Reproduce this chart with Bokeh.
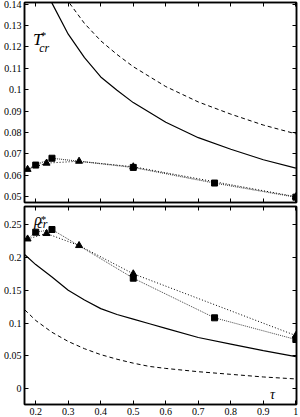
from bokeh.plotting import figure
from bokeh.layouts import column
from bokeh.models import Range1d, LinearAxis, FixedTicker, Label, AllLabels
from bokeh.embed import file_html
from bokeh.resources import INLINE

# ---------------- data ----------------
# upper panel: T*_cr versus tau
tau_T_solid = [0.24, 0.25, 0.3, 0.35, 0.4, 0.45, 0.5, 0.6, 0.7, 0.8, 0.9, 1.0]
T_solid = [0.1445, 0.1405, 0.126, 0.115, 0.106, 0.0998, 0.094, 0.0848, 0.0776, 0.0722, 0.0673, 0.0634]
tau_T_dashed = [0.28, 0.3, 0.35, 0.4, 0.45, 0.5, 0.6, 0.7, 0.8, 0.9, 1.0]
T_dashed = [0.1458, 0.1413, 0.131, 0.1229, 0.1165, 0.1108, 0.1015, 0.0943, 0.0886, 0.0835, 0.0794]

tau_sq_line = [0.175, 0.2, 0.25, 0.5, 0.75, 1.0]
T_sq_line = [0.0628, 0.0648, 0.0680, 0.0637, 0.0564, 0.0498]
tau_sq = [0.2, 0.25, 0.5, 0.75, 1.0]
T_sq = [0.0648, 0.0680, 0.0637, 0.0564, 0.0498]
tau_tri = [0.175, 0.2333, 0.3333, 0.5, 1.0]
T_tri = [0.0628, 0.0657, 0.0666, 0.0640, 0.0500]

# lower panel: rho*_cr versus tau
tau_rho = [0.1667, 0.2, 0.25, 0.3, 0.35, 0.4, 0.45, 0.5, 0.55, 0.6, 0.7, 0.8, 0.9, 1.0]
rho_solid = [0.204, 0.189, 0.170, 0.150, 0.135, 0.122, 0.113, 0.106, 0.099, 0.092, 0.078, 0.068, 0.058, 0.049]
rho_dashed = [0.120, 0.104, 0.086, 0.072, 0.061, 0.052, 0.045, 0.039, 0.034, 0.031, 0.026, 0.022, 0.018, 0.015]

rho_sq_line = [0.228, 0.2383, 0.2424, 0.1683, 0.108, 0.075]
rho_sq = [0.2383, 0.2424, 0.1683, 0.108, 0.075]
rho_tri = [0.228, 0.2363, 0.218, 0.175, 0.081]

# ticks
x_ticks = [0.2, 0.3, 0.4, 0.5, 0.6, 0.7, 0.8, 0.9, 1]
x_labels = ["0.2", "0.3", "0.4", "0.5", "0.6", "0.7", "0.8", "0.9", "1"]
yT_ticks = [0.05, 0.06, 0.07, 0.08, 0.09, 0.1, 0.11, 0.12, 0.13, 0.14]
yT_labels = ["0.05", "0.06", "0.07", "0.08", "0.09", "0.1", "0.11", "0.12", "0.13", "0.14"]
yR_ticks = [0, 0.05, 0.1, 0.15, 0.2, 0.25]
yR_labels = ["0", "0.05", "0.1", "0.15", "0.2", "0.25"]

FONT = "Liberation Serif"
X_RANGE = (0.1655, 1.002)


def style_axis(ax, ticks, labels, show):
    ax.axis_line_width = 1.5
    ax.axis_line_color = "black"
    if show:
        ax.ticker = FixedTicker(ticks=ticks)
        ax.major_tick_in = 4
        ax.major_tick_out = 0
        ax.major_tick_line_color = "black"
        ax.major_tick_line_width = 1
        ax.minor_tick_line_color = None
        ax.major_label_overrides = dict(zip(ticks, labels))
        ax.major_label_policy = AllLabels()
        ax.major_label_text_font = FONT
        ax.major_label_text_font_size = "10px"
        ax.major_label_text_color = "black"
        ax.major_label_standoff = 3
    else:
        # mirrored side: inward ticks only, no labels (drawn as minor ticks)
        ax.ticker = FixedTicker(ticks=[], minor_ticks=ticks)
        ax.major_tick_in = 0
        ax.major_tick_out = 0
        ax.minor_tick_in = 4
        ax.minor_tick_out = 0
        ax.minor_tick_line_color = "black"
        ax.minor_tick_line_width = 1
        ax.major_label_standoff = 0


def make_fig(height, yr, yticks, ylabels, show_x, mb_top, mb_bottom, mb_right):
    p = figure(width=300, height=height,
               x_range=Range1d(*X_RANGE), y_range=Range1d(*yr),
               output_backend="svg", toolbar_location=None,
               x_axis_type=None, y_axis_type=None,
               min_border_left=21, min_border_right=mb_right,
               min_border_top=mb_top, min_border_bottom=mb_bottom,
               background_fill_color="white", border_fill_color="white")
    p.outline_line_color = "black"
    p.outline_line_width = 1.5
    for loc, ticks, labels, show in [("below", x_ticks, x_labels, show_x),
                                     ("above", x_ticks, x_labels, False),
                                     ("left", yticks, ylabels, True),
                                     ("right", yticks, ylabels, False)]:
        ax = LinearAxis()
        style_axis(ax, ticks, labels, show)
        p.add_layout(ax, loc)
    return p


# ---------------- upper panel ----------------
top = make_fig(204, (0.0473, 0.1408), yT_ticks, yT_labels, False, 2, 2, 4)
top.line(tau_T_solid, T_solid, line_color="black", line_width=1.2)
top.line(tau_T_dashed, T_dashed, line_color="black", line_width=1, line_dash="4 3")
top.line(tau_sq_line, T_sq_line, line_color="#444444", line_width=1.2, line_dash="1 1")
top.line(tau_tri, T_tri, line_color="black", line_width=1, line_dash="1 2")
top.scatter(tau_sq, T_sq, marker="square", size=6, fill_color="black", line_color="black")
top.scatter(tau_tri, T_tri, marker="triangle", size=7, fill_color="black", line_color="black")

top.add_layout(Label(x=0.1913, y=0.1233, text="T", text_font=FONT, text_font_style="italic",
                     text_font_size="17px", text_baseline="alphabetic", text_color="black"))
top.add_layout(Label(x=0.2155, y=0.1256, text="*", text_font=FONT,
                     text_font_size="11px", text_baseline="alphabetic", text_color="black"))
top.add_layout(Label(x=0.211, y=0.1193, text="cr", text_font=FONT, text_font_style="italic",
                     text_font_size="12px", text_baseline="alphabetic", text_color="black"))

# ---------------- lower panel ----------------
bot = make_fig(213, (-0.0239, 0.2774), yR_ticks, yR_labels, True, 2, 13, 4)
bot.line(tau_rho, rho_solid, line_color="black", line_width=1.2)
bot.line(tau_rho, rho_dashed, line_color="black", line_width=1, line_dash="4 3")
bot.line(tau_sq_line, rho_sq_line, line_color="#444444", line_width=1, line_dash="1 1")
bot.line(tau_tri, rho_tri, line_color="black", line_width=1, line_dash="1 2")
bot.scatter(tau_sq, rho_sq, marker="square", size=6, fill_color="black", line_color="black")
bot.scatter(tau_tri, rho_tri, marker="triangle", size=7, fill_color="black", line_color="black")

bot.add_layout(Label(x=0.1958, y=0.2576, text="ρ", text_font=FONT, text_font_style="italic",
                     text_font_size="16px", text_baseline="alphabetic", text_color="black"))
bot.add_layout(Label(x=0.2155, y=0.2591, text="*", text_font=FONT,
                     text_font_size="11px", text_baseline="alphabetic", text_color="black"))
bot.add_layout(Label(x=0.2049, y=0.2508, text="cr", text_font=FONT, text_font_style="italic",
                     text_font_size="12px", text_baseline="alphabetic", text_color="black"))
bot.add_layout(Label(x=0.9203, y=-0.0088, text="τ", text_font=FONT, text_font_style="italic",
                     text_font_size="14px", text_baseline="alphabetic", text_color="black"))

layout = column(top, bot, spacing=0)
open("out.html", "w").write(file_html(layout, INLINE))
